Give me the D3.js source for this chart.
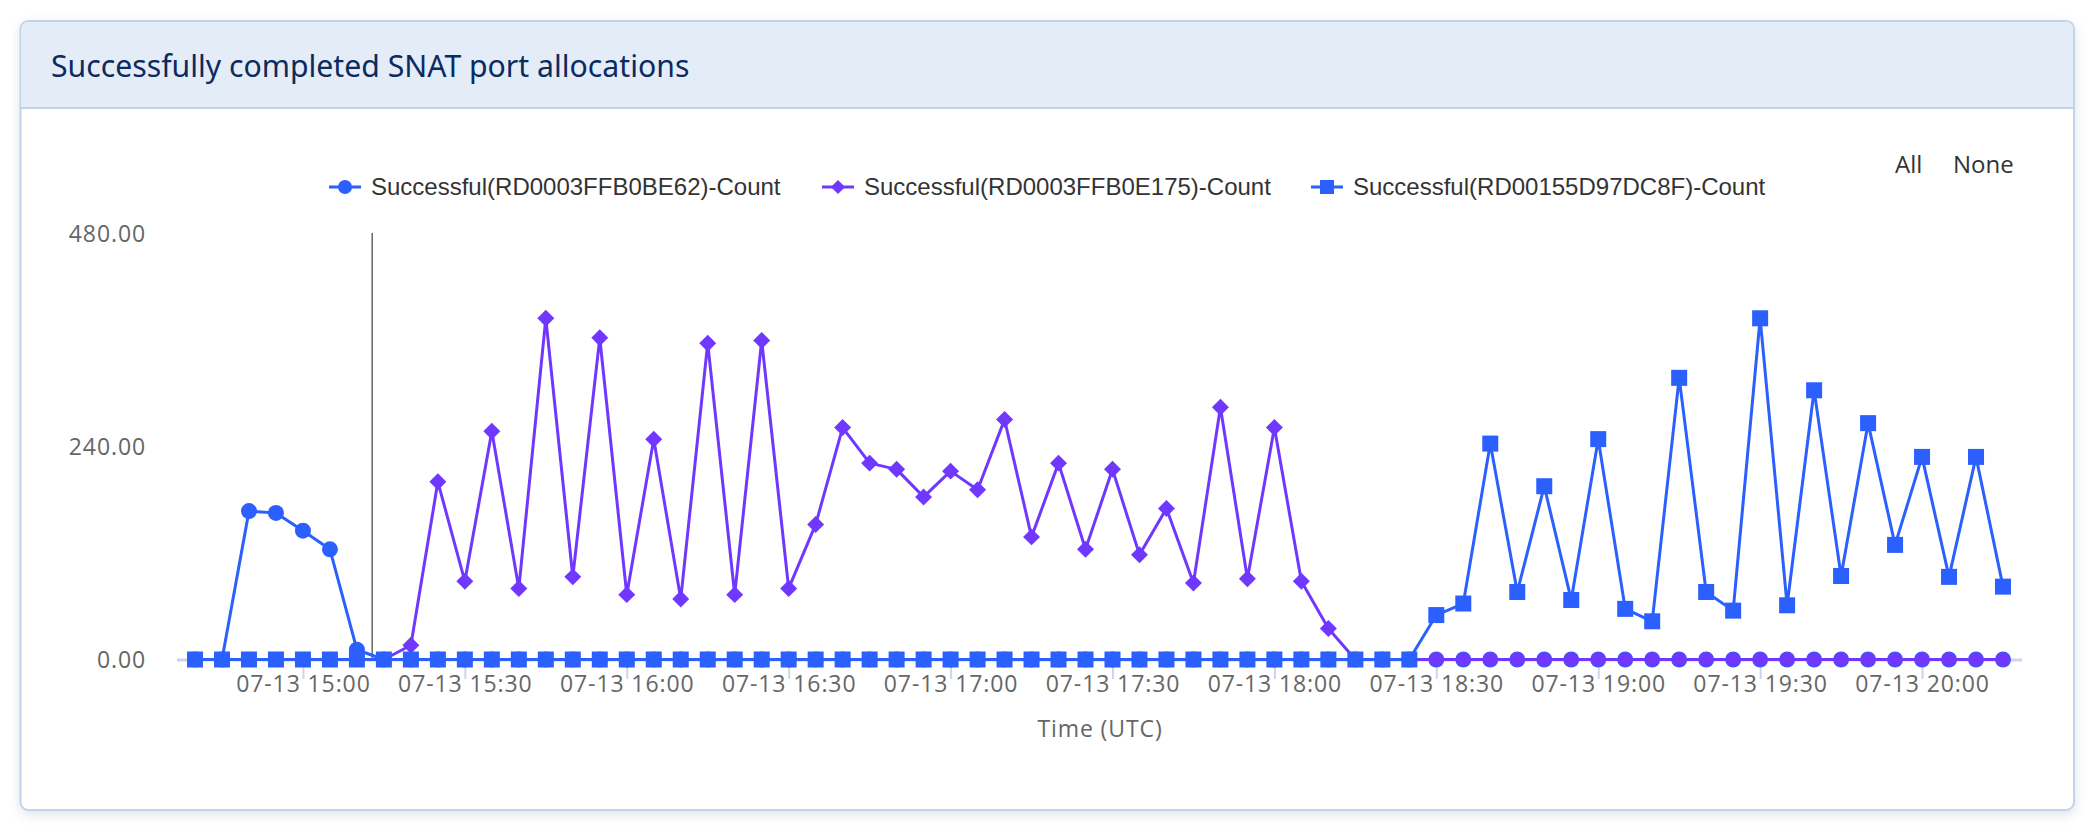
<!DOCTYPE html>
<html lang="en">
<head>
    <meta charset="UTF-8">
    <title>Successfully completed SNAT port allocations</title>
    <script src="https://d3js.org/d3.v7.min.js"></script>
    <style>
        html, body { margin: 0; padding: 0; background: #fff; }
        svg { display: block; }
        .panel { filter: drop-shadow(0 4px 6px rgba(60, 80, 120, 0.16)); }
        .title { font-family: "Noto Sans", sans-serif; font-size: 30.2px; fill: #0b2b5e; }
        .legend text { font-family: "Liberation Sans", Arial, sans-serif; font-size: 24px; fill: #333; }
        .toggle { font-family: "Open Sans", sans-serif; font-size: 24px; fill: #333; }
        .axis text, .axis-title { font-family: "Open Sans", sans-serif; font-size: 23px; letter-spacing: 0.9px; fill: #666; }
        .axis path, .axis line { stroke: #ccd6eb; }
        .line { fill: none; stroke-width: 3; stroke-linejoin: round; }
    </style>
</head>
<body>
    <div id="chart"></div>
    <script>
        const startTime = new Date(Date.UTC(2021, 6, 13, 14, 40));
        const endTime = new Date(Date.UTC(2021, 6, 13, 20, 15));
        const cursorTime = new Date(Date.UTC(2021, 6, 13, 15, 12, 50));
        const times = d3.utcMinute.every(5).range(startTime, d3.utcMinute.offset(endTime, 1));

        const yTicks = [0, 240, 480];
        const seriesNames = [
            "Successful(RD0003FFB0BE62)-Count",
            "Successful(RD0003FFB0E175)-Count",
            "Successful(RD00155D97DC8F)-Count"
        ];

        const values1 = [
            0, 0, 167, 165, 145, 124, 11, 0, 0, 0,
            0, 0, 0, 0, 0, 0, 0, 0, 0, 0,
            0, 0, 0, 0, 0, 0, 0, 0, 0, 0,
            0, 0, 0, 0, 0, 0, 0, 0, 0, 0,
            0, 0, 0, 0, 0, 0, 0, 0, 0, 0,
            0, 0, 0, 0, 0, 0, 0, 0, 0, 0,
            0, 0, 0, 0, 0, 0, 0, 0
        ];
        const values2 = [
            0, 0, 0, 0, 0, 0, 0, 0, 16, 200,
            88, 257, 80, 384, 93, 362, 73, 248, 68, 356,
            73, 359, 80, 152, 261, 221, 214, 183, 212, 191,
            270, 138, 221, 124, 214, 118, 170, 86, 284, 91,
            261, 88, 35, 0, 0, 0, 0, 0, 0, 0,
            0, 0, 0, 0, 0, 0, 0, 0, 0, 0,
            0, 0, 0, 0, 0, 0, 0, 0
        ];
        const values3 = [
            0, 0, 0, 0, 0, 0, 0, 0, 0, 0,
            0, 0, 0, 0, 0, 0, 0, 0, 0, 0,
            0, 0, 0, 0, 0, 0, 0, 0, 0, 0,
            0, 0, 0, 0, 0, 0, 0, 0, 0, 0,
            0, 0, 0, 0, 0, 0, 50, 63, 243, 76,
            195, 67, 248, 57, 43, 317, 76, 55, 384, 61,
            303, 94, 266, 129, 228, 93, 228, 82
        ];

        const blue = "#2b60ff";
        const purple = "#7038ff";

        const svg = d3.select("#chart").append("svg")
            .attr("width", 2092)
            .attr("height", 840);

        // panel with its header band
        const panel = svg.append("g").attr("class", "panel");
        panel.append("rect")
            .attr("x", 20.5).attr("y", 21)
            .attr("width", 2053.5).attr("height", 789)
            .attr("rx", 8)
            .attr("fill", "#fff")
            .attr("stroke", "#c1d4ec")
            .attr("stroke-width", 2);
        svg.append("path")
            .attr("d", "M21.5,108V30a8,8 0 0 1 8,-8H2065a8,8 0 0 1 8,8V108Z")
            .attr("fill", "#e4ecf8");
        svg.append("line")
            .attr("x1", 21).attr("x2", 2074)
            .attr("y1", 108).attr("y2", 108)
            .attr("stroke", "#c1d4ec")
            .attr("stroke-width", 2);
        svg.append("text")
            .attr("class", "title")
            .attr("x", 51).attr("y", 77)
            .text("Successfully completed SNAT port allocations");

        const x = d3.scaleUtc().domain([startTime, endTime]).range([195, 2003]);
        const y = d3.scaleLinear().domain([0, 480]).range([659.5, 233]);

        // x axis
        const xAxis = svg.append("g")
            .attr("class", "axis")
            .attr("transform", "translate(0,660)")
            .call(d3.axisBottom(x)
                .ticks(d3.utcMinute.every(30))
                .tickFormat(d3.utcFormat("%m-%d %H:%M"))
                .tickSize(19)
                .tickPadding(0));
        xAxis.select(".domain")
            .attr("d", "M177,0H2022")
            .attr("stroke-width", 3);
        xAxis.selectAll(".tick line").attr("stroke-width", 2);
        xAxis.selectAll(".tick text").attr("dy", "0.58em").attr("text-anchor", "middle");

        // y axis
        const yAxis = svg.append("g")
            .attr("class", "axis")
            .attr("transform", "translate(146,1)")
            .call(d3.axisLeft(y)
                .tickValues(yTicks)
                .tickFormat(d3.format(".2f"))
                .tickSize(0)
                .tickPadding(0));
        yAxis.select(".domain").remove();

        svg.append("text")
            .attr("class", "axis-title")
            .attr("x", 1100).attr("y", 737)
            .attr("text-anchor", "middle")
            .text("Time (UTC)");

        // crosshair left on the plot
        svg.append("line")
            .attr("x1", x(cursorTime)).attr("x2", x(cursorTime))
            .attr("y1", y(480)).attr("y2", y(0))
            .attr("stroke", "#666")
            .attr("stroke-width", 1.5);

        const lineFor = d3.line()
            .x((d, i) => x(times[i]))
            .y(d => y(d));

        function drawLine(values, color) {
            svg.append("path")
                .datum(values)
                .attr("class", "line")
                .attr("stroke", color)
                .attr("d", lineFor);
        }

        // series 1: circles
        drawLine(values1, blue);
        svg.append("g").selectAll("circle")
            .data(values1)
            .join("circle")
            .attr("cx", (d, i) => x(times[i]))
            .attr("cy", d => y(d))
            .attr("r", 8)
            .attr("fill", blue);

        // series 2: diamonds, sitting as round dots when on the zero line
        drawLine(values2, purple);
        const marks2 = svg.append("g");
        marks2.selectAll("circle")
            .data(values2.map((d, i) => ({ d, i })).filter(p => p.d === 0))
            .join("circle")
            .attr("cx", p => x(times[p.i]))
            .attr("cy", p => y(p.d))
            .attr("r", 7.2)
            .attr("fill", purple);
        marks2.selectAll("rect")
            .data(values2.map((d, i) => ({ d, i })).filter(p => p.d !== 0))
            .join("rect")
            .attr("width", 12).attr("height", 12)
            .attr("x", -6).attr("y", -6)
            .attr("transform", p => `translate(${x(times[p.i])},${y(p.d)}) rotate(45)`)
            .attr("fill", purple);

        // series 3: squares
        drawLine(values3, blue);
        svg.append("g").selectAll("rect")
            .data(values3)
            .join("rect")
            .attr("x", (d, i) => x(times[i]) - 8)
            .attr("y", d => y(d) - 8)
            .attr("width", 16)
            .attr("height", 16)
            .attr("fill", blue);

        // legend
        const legendX = [345, 838, 1327];
        const legendColors = [blue, purple, blue];
        const legend = svg.append("g")
            .attr("class", "legend")
            .selectAll("g")
            .data(seriesNames)
            .join("g")
            .attr("transform", (d, i) => `translate(${legendX[i]},187)`);
        legend.append("line")
            .attr("x1", -16).attr("x2", 16)
            .attr("stroke", (d, i) => legendColors[i])
            .attr("stroke-width", 3);
        legend.append("text")
            .attr("x", 26)
            .attr("dy", "0.35em")
            .text(d => d);
        legend.filter((d, i) => i === 0).append("circle")
            .attr("r", 7).attr("fill", blue);
        legend.filter((d, i) => i === 1).append("rect")
            .attr("x", -5).attr("y", -5).attr("width", 10).attr("height", 10)
            .attr("transform", "rotate(45)")
            .attr("fill", purple);
        legend.filter((d, i) => i === 2).append("rect")
            .attr("x", -7).attr("y", -7).attr("width", 14).attr("height", 14)
            .attr("fill", blue);

        svg.append("text").attr("class", "toggle").attr("x", 1895).attr("y", 173).text("All");
        svg.append("text").attr("class", "toggle").attr("x", 1953).attr("y", 173).text("None");
    </script>
</body>
</html>
